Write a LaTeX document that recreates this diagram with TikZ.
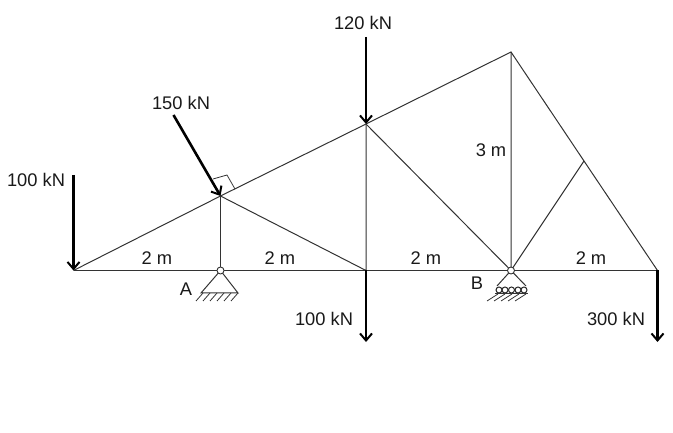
\documentclass[tikz,border=0pt]{standalone}
\usepackage{fontspec}
\setmainfont{Liberation Sans}
\usetikzlibrary{arrows.meta}
\begin{document}
\begin{tikzpicture}[x=1pt,y=-1pt,
  member/.style={draw=black!80,line width=1pt},
  load/.style={draw=black,line width=2.6pt,-{Straight Barb[length=7pt,width=12pt,line width=2pt]}},
  lbl/.style={font=\fontsize{18.3}{20}\selectfont,text=black!90,inner sep=0pt,anchor=center},
  pin/.style={circle,draw=black!80,fill=white,line width=0.9pt,minimum size=7pt,inner sep=0pt},
  roller/.style={circle,draw=black!85,fill=white,line width=1pt,minimum size=6pt,inner sep=0pt},
  hatch/.style={draw=black!80,line width=0.8pt}]
\useasboundingbox (0,0) rectangle (673,433);
\coordinate (L) at (73.5,270.5);
\coordinate (T1) at (220.5,196);
\coordinate (C) at (366,270.5);
\coordinate (D) at (366,124);
\coordinate (E) at (511,52);
\coordinate (R) at (657.5,270.5);
\coordinate (F) at (584,161);
\coordinate (Apos) at (220.5,270.5);
\coordinate (Bpos) at (511,270.5);
% members
\draw[member] (L) -- (R);
\draw[member] (L) -- (T1) -- (D) -- (E) -- (F) -- (R);
\draw[member] (T1) -- (Apos);
\draw[member] (T1) -- (C) -- (D);
\draw[member] (D) -- (Bpos) -- (E);
\draw[member] (Bpos) -- (F);
% right-angle mark
\coordinate (RA1) at (213,179);
\coordinate (RA2) at (227,175);
\coordinate (RA3) at (235,189);
\draw[member,line width=0.8pt] (RA1) -- (RA2) -- (RA3);
% support A
\coordinate (A1) at (201,293);
\coordinate (A2) at (238,293);
\draw[member] (Apos) -- (A1) -- (A2) -- cycle;
\foreach \x in {203,210,217,224,231,238}{\draw[hatch] (\x,293) -- (\x-7,301);}
\node[pin] (A) at (Apos) {};
% support B
\coordinate (B1) at (497,286);
\coordinate (B2) at (526,286);
\draw[member] (Bpos) -- (B1) (Bpos) -- (B2);
\foreach \x/\n in {499/r1,505/r2,511.5/r3,518/r4,524/r5}{\node[roller] (\n) at (\x,290) {};}
\draw[member] (495,293.5) -- (528,293.5);
\foreach \x in {498,505,512,519,526}{\draw[hatch] (\x,294) -- (\x-11,301);}
\node[pin] (B) at (Bpos) {};
% loads
\coordinate (l1s) at (73.5,175);
\coordinate (l2s) at (173.5,115);
\coordinate (l3s) at (366,37);
\coordinate (l4e) at (366,342);
\coordinate (l5e) at (657.5,342);
\draw[load] (l1s) -- (L);
\draw[load] (l2s) -- (T1);
\draw[load] (l3s) -- (D);
\draw[load] (C) -- (l4e);
\draw[load] (R) -- (l5e);
% labels
\node[lbl] (t1) at (363,23) {120 kN};
\node[lbl] (t2) at (181,103) {150 kN};
\node[lbl] (t3) at (36,180) {100 kN};
\node[lbl] (t4) at (324,319) {100 kN};
\node[lbl] (t5) at (616,319) {300 kN};
\node[lbl] (t6) at (491,150) {3 m};
\node[lbl] (t7) at (157,258) {2 m};
\node[lbl] (t8) at (280,258) {2 m};
\node[lbl] (t9) at (426,258) {2 m};
\node[lbl] (t10) at (591,258) {2 m};
\node[lbl] (t11) at (186,289) {A};
\node[lbl] (t12) at (477,283) {B};
\end{tikzpicture}
\end{document}
